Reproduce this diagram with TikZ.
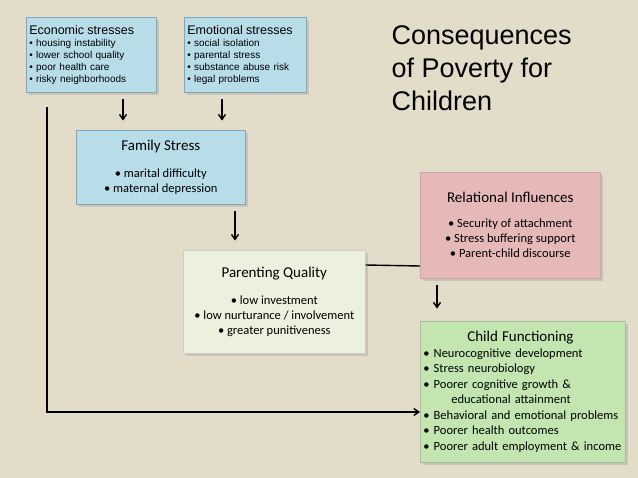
\documentclass[tikz,border=0pt]{standalone}
\usepackage{fontspec}
\setmainfont{Carlito}
\newfontfamily\arialfont{Liberation Sans}
\usetikzlibrary{arrows.meta, positioning, calc, shadows}
\definecolor{Paper}{HTML}{E2DCC8}
\definecolor{StressBlue}{HTML}{B7DDE8}
\definecolor{EdgeBlue}{HTML}{7FA7C0}
\definecolor{PaleGreen}{HTML}{EBF1DE}
\definecolor{RoseFill}{HTML}{E6B9B8}
\definecolor{MintFill}{HTML}{C3E6B0}
\definecolor{Charcoal}{HTML}{000000}
\tikzset{
    panel/.style={rectangle, draw=EdgeBlue, line width=0.6pt, drop shadow={opacity=0.25},
                  inner sep=3pt, text=Charcoal},
    flow/.style={-{Straight Barb[length=5pt,width=7pt]}, line width=1.4pt, Charcoal}
}
\begin{document}
\begin{tikzpicture}[x=1pt, y=-1pt]
    \useasboundingbox[fill=Paper] (0,0) rectangle (638,478);

    % Stress boxes
    \node[panel, fill=StressBlue, text width=124pt, minimum height=75pt, inner sep=3pt,
          align=left, anchor=north west, font=\arialfont\fontsize{10}{12}\selectfont]
          (econ) at (26,17) {{\fontsize{12.5}{14}\selectfont Economic stresses}\\
          • housing instability\\ • lower school quality\\ • poor health care\\
          • risky neighborhoods};
    \node[panel, fill=StressBlue, text width=116pt, minimum height=75pt, inner sep=3pt,
          align=left, anchor=north west, font=\arialfont\fontsize{10}{12}\selectfont]
          (emot) at (184,17) {{\fontsize{12.5}{14}\selectfont Emotional stresses}\\
          • social isolation\\ • parental stress\\ • substance abuse risk\\
          • legal problems};

    % Title
    \node[anchor=north west, align=left, font=\arialfont\fontsize{27}{33}\selectfont,
          text=Charcoal] (title) at (388,22) {Consequences\\ of Poverty for\\ Children};

    % Middle chain
    \node[panel, fill=StressBlue, minimum width=169pt, minimum height=74pt,
          align=center, anchor=north west, font=\fontsize{12.5}{15}\selectfont]
          (family) at (76,130) {{\fontsize{15}{17}\selectfont Family Stress}\\[12pt]
          • marital difficulty\\ • maternal depression};
    \node[panel, fill=PaleGreen, draw=PaleGreen!70!gray, minimum width=182pt,
          minimum height=103pt, align=center, anchor=north west,
          font=\fontsize{12.5}{15}\selectfont]
          (parent) at (183,250) {{\fontsize{15}{17}\selectfont Parenting Quality}\\[12pt]
          • low investment\\ • low nurturance / involvement\\ • greater punitiveness};
    \node[panel, fill=RoseFill, draw=RoseFill!70!gray, minimum width=180pt,
          minimum height=106pt, align=center, anchor=north west,
          font=\fontsize{12.5}{15}\selectfont]
          (relat) at (420,172) {{\fontsize{15}{17}\selectfont Relational Influences}\\[10pt]
          • Security of attachment\\ • Stress buffering support\\ • Parent-child discourse};
    \node[panel, fill=MintFill, draw=MintFill!60!gray, text width=199pt,
          minimum height=141pt, align=left, anchor=north west,
          font=\fontsize{12.5}{15.5}\selectfont]
          (child) at (420,321) {\hspace*{44pt}{\fontsize{15}{17}\selectfont Child Functioning}\\
          • Neurocognitive development\\ • Stress neurobiology\\
          • Poorer cognitive growth \&\\ \hspace*{28pt}educational attainment\\
          • Behavioral and emotional problems\\ • Poorer health outcomes\\
          • Poorer adult employment \& income};

    % Connectors
    \draw[flow] ($(econ.south west)+(97,6)$) -- ++(0,22);
    \draw[flow] ($(emot.south west)+(38,6)$) -- ++(0,22);
    \draw[flow] ($(family.south west)+(159,6)$) -- ++(0,30);
    \draw[line width=1.4pt, Charcoal] ($(parent.north east)+(0,15)$) -- (relat.west |- {$(parent.north east)+(0,16)$});
    \draw[flow] ($(relat.south west)+(17,6)$) -- ++(0,24);
    \coordinate (corner) at (47,412);
    \draw[flow] (47,107) -- (corner) -- (child.west |- corner);
\end{tikzpicture}
\end{document}
